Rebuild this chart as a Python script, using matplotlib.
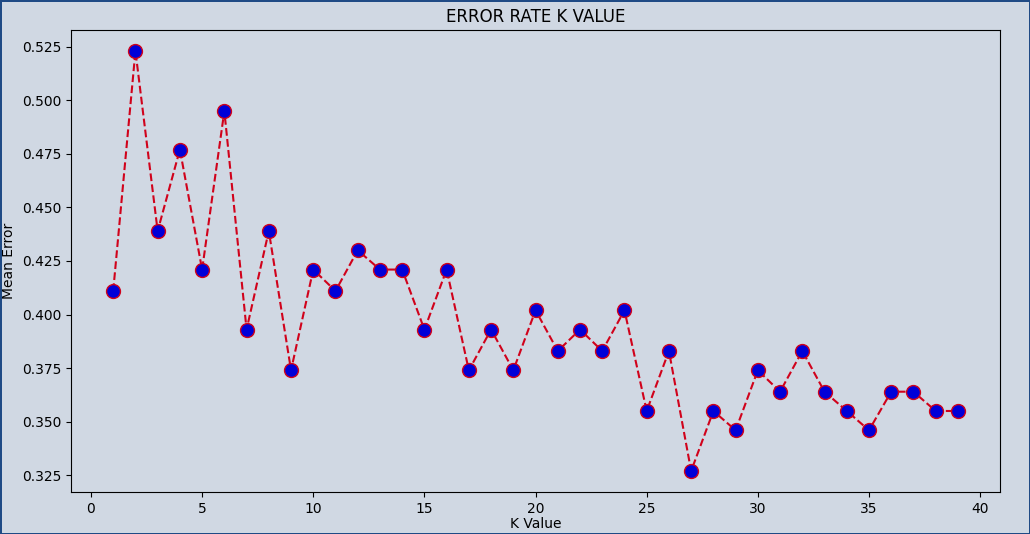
import matplotlib
matplotlib.use("Agg")
import matplotlib.pyplot as plt

k_values = list(range(1, 40))
mean_error = [0.411, 0.523, 0.439, 0.477, 0.421, 0.495, 0.393, 0.439, 0.374, 0.421,
              0.411, 0.430, 0.421, 0.421, 0.393, 0.421, 0.374, 0.393, 0.374, 0.402,
              0.383, 0.393, 0.383, 0.402, 0.355, 0.383, 0.327, 0.355, 0.346, 0.374,
              0.364, 0.383, 0.364, 0.355, 0.346, 0.364, 0.364, 0.355, 0.355]

bg = "#d0d8e3"
fig = plt.figure(figsize=(10.3, 5.34), dpi=100, facecolor=bg,
                 edgecolor="#1f4a85", linewidth=2)
ax = fig.add_axes([0.0689, 0.0787, 0.9021, 0.8651])
ax.set_facecolor(bg)
ax.plot(k_values, mean_error, color="#d0021b", linestyle="dashed",
        marker="o", markerfacecolor="#0000d8", markeredgecolor="#d0021b",
        markersize=10, linewidth=1.5)
ax.set_title("ERROR RATE K VALUE", fontsize=12)
ax.set_xlabel("K Value", labelpad=1)
ax.set_ylabel("Mean Error", labelpad=4)
fig.savefig("out.png", dpi=100, facecolor=bg, edgecolor="#1f4a85")
